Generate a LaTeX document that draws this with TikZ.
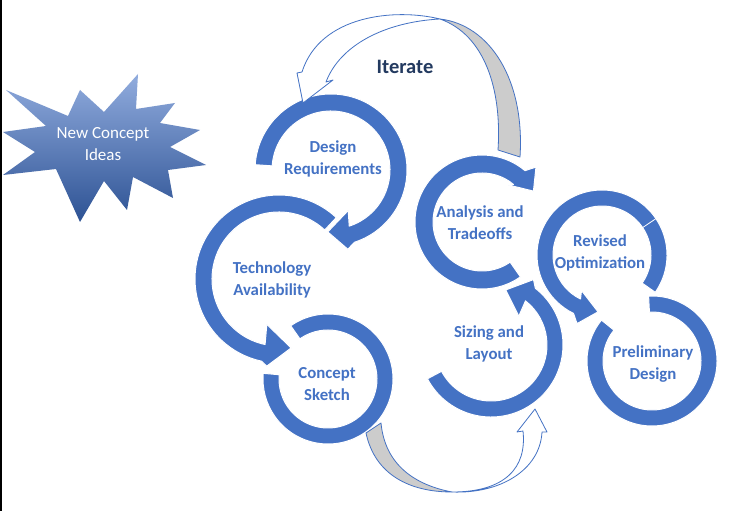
\documentclass[tikz,border=0pt]{standalone}
\usepackage{fontspec}
\setmainfont{Carlito}
\definecolor{ringblue}{RGB}{68,114,196}
\definecolor{arrowgray}{RGB}{204,204,204}
\definecolor{iterc}{RGB}{35,58,96}
\definecolor{starlight}{RGB}{145,172,222}
\definecolor{stardark}{RGB}{45,82,148}
\begin{document}
\begin{tikzpicture}[x=1pt,y=1pt,
  ring/.style={fill=ringblue, draw=white, line width=1pt, line join=round},
  facew/.style={fill=white, draw=ringblue, line width=0.8pt, line join=round},
  faceg/.style={fill=arrowgray, draw=ringblue, line width=0.8pt, line join=round},
  lbl/.style={text=ringblue, font=\bfseries\fontsize{16.8}{22}\selectfont, align=center, inner sep=0pt}]
\useasboundingbox (0,0) rectangle (743,511);
\fill[white] (0,0) rectangle (743,511);
\fill[black] (0,0) rectangle (2,511);

% starburst
\shade[top color=starlight, bottom color=stardark]
  (6,421) -- (68,395) -- (80,421) -- (104,399) -- (138,437) -- (136,402) --
  (175,408) -- (160,388) -- (200,381) -- (170,364) -- (206,346) -- (168,341) --
  (173,313) -- (133,334) -- (127,301) -- (104,330) -- (80,289) -- (56,342) --
  (3,336) -- (35,359) -- (3,379) -- (46,385) -- cycle;
\node[text=white, font=\fontsize{17}{22}\selectfont, align=center, inner sep=0pt] (idea) at (103,367) {New Concept\\Ideas};

% ring centres
\coordinate (cT) at (279,232);
\coordinate (cD) at (331,341);
\coordinate (cC) at (328,132);
\coordinate (cA) at (482,289);
\coordinate (cS) at (491,166);
\coordinate (cR) at (602,256);
\coordinate (cP) at (652,150);

% Technology Availability
\path[ring, shift={(cT)}] (47:84pt) arc[start angle=47, end angle=258, radius=84pt]
  -- (262:88pt) -- (280:70pt) -- (255:47pt) -- (258:67pt)
  arc[start angle=258, end angle=47, radius=67pt] -- cycle;
% Design Requirements
\path[ring, shift={(cD)}] (176:76pt) arc[start angle=176, end angle=-72, radius=76pt]
  -- (-78:81pt) -- (-93:62pt) -- (-67:44pt) -- (-72:59pt)
  arc[start angle=-72, end angle=176, radius=59pt] -- cycle;
% Concept Sketch
\path[ring, shift={(cC)}] (125:65pt) arc[start angle=125, end angle=-185, radius=65pt]
  -- (-185:49pt) arc[start angle=-185, end angle=125, radius=49pt] -- cycle;
% Analysis and Tradeoffs
\path[ring, shift={(cA)}] (-55:67pt) arc[start angle=-55, end angle=-310, radius=67pt]
  -- (-314.5:77pt) -- (-329:60pt) -- (-304:45pt) -- (-310:49pt)
  arc[start angle=-310, end angle=-55, radius=49pt] -- cycle;
% Sizing and Layout
\path[ring, shift={(cS)}] (208:72pt) arc[start angle=208, end angle=412, radius=72pt]
  -- (417:78pt) -- (435:57pt) -- (406:40pt) -- (412:56pt)
  arc[start angle=412, end angle=208, radius=56pt] -- cycle;
% Revised Optimization
\path[ring, shift={(cR)}] (-35:65pt) arc[start angle=-35, end angle=244, radius=65pt]
  -- (250:73pt) -- (266:57pt) -- (240:41pt) -- (244:49pt)
  arc[start angle=244, end angle=-35, radius=49pt] -- cycle;
\draw[white, line width=0.8pt, shift={(cR)}] (34:48pt) -- (34:66pt);
% Preliminary Design
\path[ring, shift={(cP)}] (93:65pt) arc[start angle=93, end angle=-219, radius=65pt]
  -- (-219:49pt) arc[start angle=-219, end angle=93, radius=49pt] -- cycle;

% Iterate arrow (top)
\coordinate (tw) at (440,492);
\path[faceg] (tw) .. controls (490,486) and (525,431) .. (520,354) -- (498,361)
  .. controls (502,421) and (485,476) .. (tw) -- cycle;
\path[facew] (tw) .. controls (395,503) and (320,496) .. (302,439) -- (297,438)
  -- (303,408) -- (333,431) -- (326,429) .. controls (340,466) and (385,489) .. (tw) -- cycle;

% bottom arrow
\coordinate (bw) at (452,19);
\path[faceg] (366,78) .. controls (375,36) and (410,19) .. (bw)
  .. controls (415,26) and (385,46) .. (381,88) -- cycle;
\path[facew] (bw) .. controls (500,17) and (540,41) .. (542,79) -- (547,79)
  -- (535,102) -- (517,79) -- (523,80) .. controls (527,43) and (505,19) .. (bw) -- cycle;

% labels
\node[text=iterc, font=\bfseries\fontsize{20.5}{24}\selectfont, inner sep=0pt] (iter) at (405,444) {Iterate};
\node[lbl] (lD) at (333,352) {Design\\Requirements};
\node[lbl] (lT) at (272,231.5) {Technology\\Availability};
\node[lbl] (lC) at (327,127) {Concept\\Sketch};
\node[lbl] (lA) at (480,288.5) {Analysis and\\Tradeoffs};
\node[lbl] (lR) at (600,258) {Revised\\Optimization};
\node[lbl] (lS) at (489,167.5) {Sizing and\\Layout};
\node[lbl] (lP) at (653,147) {Preliminary\\Design};
\end{tikzpicture}
\end{document}
